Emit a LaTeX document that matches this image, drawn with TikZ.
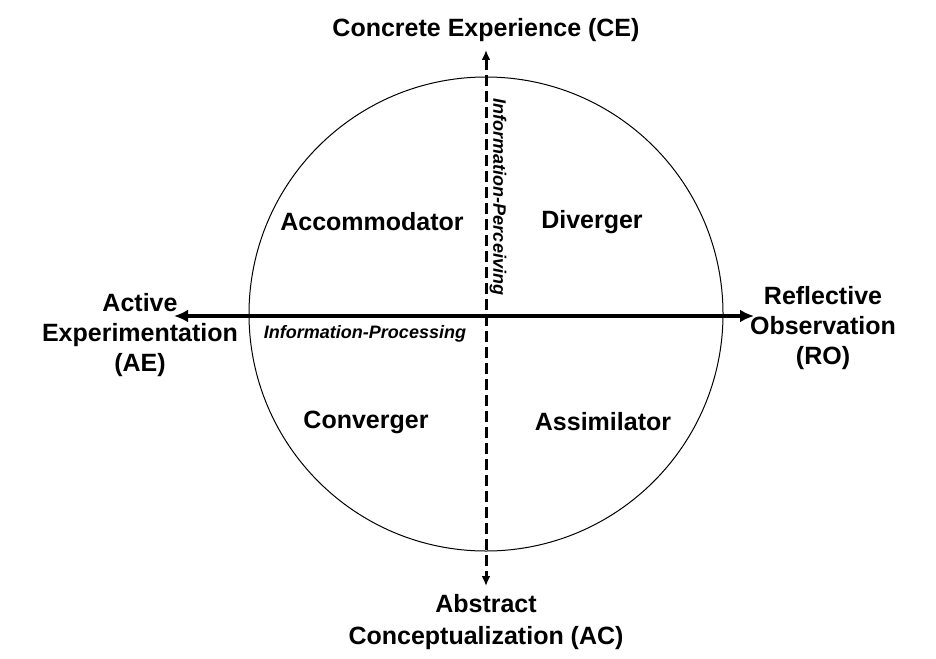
\documentclass[tikz,border=0pt]{standalone}
\usepackage{fontspec}
\setmainfont{Liberation Sans}
\usetikzlibrary{arrows.meta}
\begin{document}
\begin{tikzpicture}[x=1pt,y=-1pt,
  lbl/.style={font=\bfseries\fontsize{25}{29}\selectfont,align=center,inner sep=0pt},
  quad/.style={font=\bfseries\fontsize{25}{29}\selectfont,inner sep=0pt},
  ital/.style={font=\itshape\bfseries\fontsize{18}{20}\selectfont,inner sep=0pt}]
\useasboundingbox (0,0) rectangle (936,658);
\node[circle,draw,line width=1pt,minimum size=474pt,inner sep=0pt] (c) at (486,314) {};
\coordinate (l) at (174,316); \coordinate (r) at (754,316);
\coordinate (t) at (486,50); \coordinate (b) at (486,586);
\draw[line width=4pt,{Latex[length=14pt,width=13pt]}-{Latex[length=14pt,width=13pt]}] (l) -- (r);
\draw[line width=3pt,dash pattern=on 11pt off 5pt,{Latex[length=10pt,width=9pt]}-{Latex[length=10pt,width=9pt]}] (t) -- (b);
\node[lbl] (ce) at (486,30) {Concrete Experience (CE)};
\node[lbl] (ae) at (140,335) {Active\\[1pt]Experimentation\\[1pt](AE)};
\node[lbl] (ro) at (823,328) {Reflective\\[1pt]Observation\\[1pt](RO)};
\node[lbl] (ac) at (486,622) {Abstract\\[3pt]Conceptualization (AC)};
\node[quad] (acc) at (372,222) {Accommodator};
\node[quad] (div) at (592,222) {Diverger};
\node[quad] (con) at (366,422) {Converger};
\node[quad] (ass) at (603,422) {Assimilator};
\node[ital] (ip) at (365,334) {Information-Processing};
\node[ital,rotate=-90] (ipc) at (498,197) {Information-Perceiving};
\end{tikzpicture}
\end{document}
